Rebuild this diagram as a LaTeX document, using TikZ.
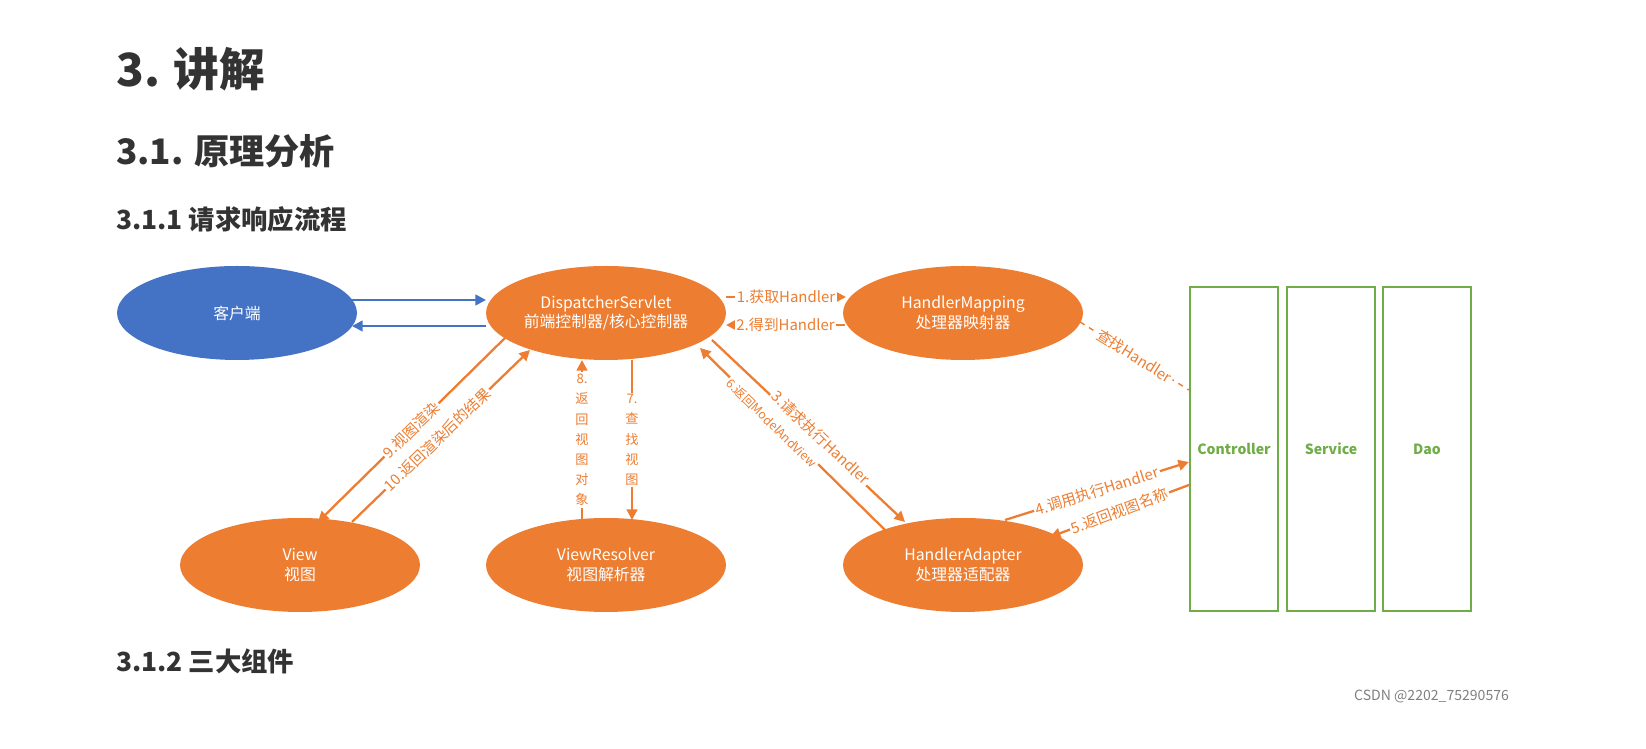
\documentclass[tikz,border=0pt]{standalone}
\usepackage{fontspec}
\setmainfont{Noto Sans CJK SC}
\usetikzlibrary{calc,shapes.geometric,arrows.meta}
\definecolor{myorange}{HTML}{ED7D31}
\definecolor{myblue}{HTML}{4472C4}
\definecolor{mygreen}{HTML}{70AD47}
\definecolor{headgray}{HTML}{333333}
\begin{document}
\begin{tikzpicture}[x=0.02cm,y=0.02cm,
	comp/.style = {ellipse,fill=myorange,text=white,inner sep=0pt,minimum width=4.8cm,minimum height=1.88cm,align=center,font=\fontsize{9}{11}\selectfont},
	layer/.style = {draw=mygreen,line width=1.2pt,minimum width=1.76cm,minimum height=6.48cm,text=mygreen,font=\fontsize{8}{10}\selectfont\bfseries},
	flow/.style = {draw=myorange,line width=1.3pt,-{Triangle[length=6pt,width=6pt]}},
	back/.style = {draw=myblue,line width=1.3pt,-{Triangle[length=6pt,width=6pt]}},
	lbl/.style = {fill=white,inner sep=1pt,text=myorange,font=\fontsize{8.5}{10}\selectfont},
	head/.style = {anchor=base west,text=headgray,font=\bfseries}]
	\useasboundingbox (0,0) rectangle (1646,749);
	
	\node[head,font=\fontsize{26}{30}\selectfont\bfseries] (h1) at (110,662) {3. 讲解};
	\node[head,font=\fontsize{20}{24}\selectfont\bfseries] (h2) at (110,584) {3.1. 原理分析};
	\node[head,font=\fontsize{15}{18}\selectfont\bfseries] (h3) at (110,519) {3.1.1 请求响应流程};
	\node[head,font=\fontsize{15}{18}\selectfont\bfseries] (h4) at (110,77) {3.1.2 三大组件};
	\node[anchor=base west,text=gray,font=\fontsize{8}{10}\selectfont] (wm) at (1348,48) {CSDN @2202\_75290576};
	
	\node[comp,fill=myblue] (cl) at (237,436) {客户端};
	\node[comp] (ds) at (606,436) {DispatcherServlet\\前端控制器/核心控制器};
	\node[comp] (hm) at (963,436) {HandlerMapping\\处理器映射器};
	\node[comp] (vw) at (300,184) {View\\视图};
	\node[comp] (vr) at (606,184) {ViewResolver\\视图解析器};
	\node[comp] (ha) at (963,184) {HandlerAdapter\\处理器适配器};
	\node[layer] (ctrl) at (1234,300) {Controller};
	\node[layer] (svc) at (1331,300) {Service};
	\node[layer] (dao) at (1427,300) {Dao};
	
	\draw[back] ($(cl)+(113,13)$) -- ($(ds)+(-120,13)$);
	\draw[back] ($(ds)+(-120,-13)$) -- ($(cl)+(115,-13)$);
	\draw[flow] ($(ds)+(120,16)$) -- node[lbl] {1.获取Handler} ($(hm)+(-117,16)$);
	\draw[flow] ($(hm)+(-118,-12)$) -- node[lbl] {2.得到Handler} ($(ds)+(120,-12)$);
	\draw[myorange,line width=0.8pt,dashed] ($(hm)+(117,-9)$) -- node[lbl,sloped] {查找Handler} ($(ctrl.west)+(0,59)$);
	\draw[flow] ($(ds)+(106,-27)$) -- node[lbl,sloped,pos=0.55,yshift=2pt] {3.请求执行Handler} ($(ha)+(-58,43)$);
	\draw[flow] ($(ha)+(-78,35)$) -- node[lbl,sloped,pos=0.6,font=\fontsize{7}{8}\selectfont,yshift=-2pt] {6.返回ModelAndView} ($(ds)+(94,-35)$);
	\draw[flow] ($(ha)+(42,45)$) -- node[lbl,sloped] {4.调用执行Handler} ($(ctrl.west)+(0,-13)$);
	\draw[flow] ($(ctrl.west)+(0,-36)$) -- node[lbl,sloped] {5.返回视图名称} ($(ha)+(87,28)$);
	\draw[flow] ($(ds)+(26,-47)$) -- node[lbl,align=center,font=\fontsize{7.5}{11.5}\selectfont] {7.\\查\\找\\视\\图} ($(vr)+(26,45)$);
	\draw[flow] ($(vr)+(-24,45)$) -- node[lbl,align=center,font=\fontsize{7.5}{11.5}\selectfont] {8.\\返\\回\\视\\图\\对\\象} ($(ds)+(-24,-47)$);
	\draw[flow] ($(ds)+(-101,-25)$) -- node[lbl,sloped,pos=0.5] {9.视图渲染} ($(vw)+(18,43)$);
	\draw[flow] ($(vw)+(52,43)$) -- node[lbl,sloped,pos=0.48] {10.返回渲染后的结果} ($(ds)+(-76,-37)$);
\end{tikzpicture}
\end{document}
